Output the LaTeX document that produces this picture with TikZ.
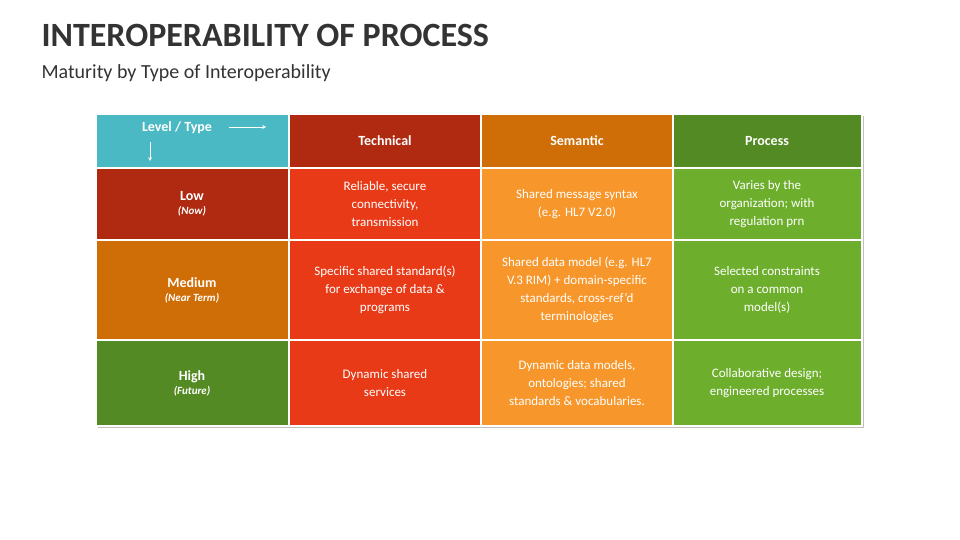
\documentclass[tikz,border=0pt]{standalone}
\usepackage{fontspec}
\setmainfont{Carlito}
\begin{document}
\begin{tikzpicture}[x=1pt,y=-1pt,
 cell/.style={draw=white,line width=1.2pt,minimum width=#1,inner sep=0pt,outer sep=0pt},
 txt/.style={text=white,align=center,font=\fontsize{13}{18}\selectfont},
 hd/.style={text=white,align=center,font=\fontsize{14}{18}\selectfont\bfseries},
 arr/.style={white,line width=0.7pt,-stealth}]
\useasboundingbox (0,0) rectangle (960,540);
\fill[black!25] (98,116) rectangle (864,428);
\definecolor{teal}{HTML}{4BB9C3}
\definecolor{dred}{HTML}{AF2A10}
\definecolor{dorg}{HTML}{CF6E06}
\definecolor{dgrn}{HTML}{548A23}
\definecolor{lred}{HTML}{E83A17}
\definecolor{lorg}{HTML}{F7962A}
\definecolor{lgrn}{HTML}{6DAF2C}
\node[anchor=west,font=\fontsize{34}{40}\selectfont\bfseries,text=black!80] (title) at (38,35) {INTEROPERABILITY OF PROCESS};
\node[anchor=west,font=\fontsize{20}{24}\selectfont,text=black!80] (sub) at (38,73) {Maturity by Type of Interoperability};
% rows: 114-168,168-240,240-340,340-426 ; cols 96,289,481,673,862
\foreach \x/\w/\c [count=\i] in {96/193/teal,289/192/dred,481/192/dorg,673/189/dgrn}{
  \fill[\c,draw=white,line width=1.2pt] (\x,114) rectangle ++(\w,54);}
\foreach \y/\h/\a/\b/\cc/\d in {168/72/dred/lred/lorg/lgrn,240/100/dorg/lred/lorg/lgrn,340/86/dgrn/lred/lorg/lgrn}{
  \fill[\a,draw=white,line width=1.2pt] (96,\y) rectangle ++(193,\h);
  \fill[\b,draw=white,line width=1.2pt] (289,\y) rectangle ++(192,\h);
  \fill[\cc,draw=white,line width=1.2pt] (481,\y) rectangle ++(192,\h);
  \fill[\d,draw=white,line width=1.2pt] (673,\y) rectangle ++(189,\h);}
\node[hd] (lt) at (177,128) {Level / Type};
\coordinate (ha) at (229,127); \coordinate (hb) at (266,127);
\coordinate (va) at (150,142); \coordinate (vb) at (150,161);
\draw[arr] (ha) -- (hb);
\draw[arr] (va) -- (vb);
\node[hd] (ht) at (385,141) {Technical};
\node[hd] (hs) at (577,141) {Semantic};
\node[hd] (hp) at (767,141) {Process};
\node[txt] (low) at (192,204) {\textbf{\fontsize{14}{18}\selectfont Low}\\[-4pt]\textbf{\textit{\fontsize{11}{14}\selectfont(Now)}}};
\node[txt] (med) at (192,290) {\textbf{\fontsize{14}{18}\selectfont Medium}\\[-4pt]\textbf{\textit{\fontsize{11}{14}\selectfont(Near Term)}}};
\node[txt] (high) at (192,383) {\textbf{\fontsize{14}{18}\selectfont High}\\[-4pt]\textbf{\textit{\fontsize{11}{14}\selectfont(Future)}}};
\node[txt] (t1) at (385,204) {Reliable, secure\\connectivity,\\transmission};
\node[txt] (t2) at (385,290) {Specific shared standard(s)\\for exchange of data \&\\programs};
\node[txt] (t3) at (385,383) {Dynamic shared\\services};
\node[txt] (s1) at (577,204) {Shared message syntax\\(e.g. HL7 V2.0)};
\node[txt] (s2) at (577,290) {Shared data model (e.g. HL7\\V.3 RIM) + domain-specific\\standards, cross-ref’d\\terminologies};
\node[txt] (s3) at (577,383) {Dynamic data models,\\ontologies; shared\\standards \& vocabularies.};
\node[txt] (p1) at (767,204) {Varies by the\\organization; with\\regulation prn};
\node[txt] (p2) at (767,290) {Selected constraints\\on a common\\model(s)};
\node[txt] (p3) at (767,383) {Collaborative design;\\engineered processes};
\end{tikzpicture}
\end{document}
